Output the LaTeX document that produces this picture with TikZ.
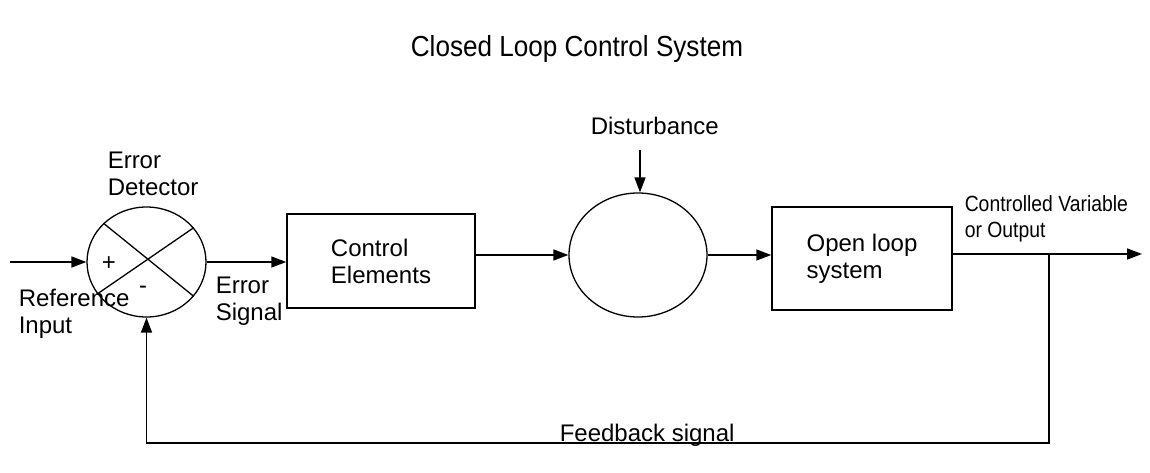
\documentclass[tikz,border=0pt]{standalone}
\usepackage{fontspec}
\setmainfont{Liberation Sans}
\newfontfamily\narrowfont[FakeStretch=0.9]{Liberation Sans}
\newfontfamily\condfont[FakeStretch=0.88]{Liberation Sans}
\usetikzlibrary{shapes.geometric,arrows.meta}
\begin{document}
\begin{tikzpicture}[x=1pt,y=-1pt,
  line width=1.5pt,
  arr/.style={-{Triangle[length=15pt,width=11pt]}},
  blk/.style={draw, rectangle, inner sep=0pt, align=left, font=\fontsize{24}{27}\selectfont},
  lbl/.style={inner sep=0pt, anchor=base west, align=left, font=\fontsize{24}{27}\selectfont},
  sgn/.style={inner sep=0pt, font=\fontsize{24}{26}\selectfont},
  ell/.style={draw, ellipse, inner sep=0pt, line width=1.3pt}]
\useasboundingbox (0,0) rectangle (1150,473);
\fill[white] (0,0) rectangle (1150,473);
\node[inner sep=0pt, anchor=base, font=\narrowfont\fontsize{29}{32}\selectfont] (title) at (577,57) {Closed Loop Control System};
% summing junction
\node[ell, minimum width=119pt, minimum height=110pt] (sum) at (146.5,262) {};
\draw[line width=1.3pt] (sum.138) -- (sum.-36) (sum.213) -- (sum.36);
\node[sgn] (plus) at (109,264) {+};
\node[sgn] (minus) at (143,290) {-};
% blocks
\node[blk, minimum width=188pt, minimum height=94pt] (ctrl) at (381,261) {Control\\Elements};
\node[ell, minimum width=138pt, minimum height=124pt] (dist) at (638,255) {};
\node[blk, minimum width=180pt, minimum height=103pt] (plant) at (862,258.5) {Open loop\\system};
% labels (anchor = baseline of the last line)
\node[lbl] (det) at (107,195) {Error\\Detector};
\node[lbl] (ref) at (18,333) {Reference\\Input};
\node[lbl] (esig) at (215,320) {Error\\Signal};
\node[lbl] (dlab) at (590,135) {Disturbance};
\node[lbl, font=\condfont\fontsize{22}{26}\selectfont] (cv) at (964,237) {Controlled Variable\\or Output};
\node[lbl] (fb) at (559,441) {Feedback signal};
% connectors
\coordinate (in) at (10,262);
\coordinate (dsrc) at (640,150);
\coordinate (out) at (1142,254);
\coordinate (br) at (1049,254);
\coordinate (fbc) at (1049,443);
\draw[arr] (in) -- (sum.west);
\draw[arr] (sum.east) -- (sum.east -| ctrl.west);
\draw[arr] (dist.west -| ctrl.east) -- (dist.west);
\draw[arr] (dist.east) -- (dist.east -| plant.west);
\draw[arr] (dsrc) -- (dsrc |- dist.north);
\draw[arr] (plant.east |- out) -- (out);
\draw[arr] (br) -- (fbc) -| (sum.south);
\end{tikzpicture}
\end{document}
